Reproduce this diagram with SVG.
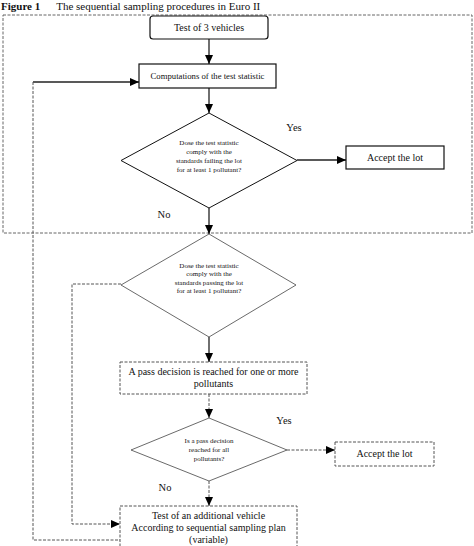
<svg xmlns="http://www.w3.org/2000/svg" width="474" height="546" viewBox="0 0 474 546">
<defs>
<marker id="ah" markerWidth="9" markerHeight="8" refX="9" refY="4" orient="auto" markerUnits="userSpaceOnUse">
<path d="M0,0 L9,4 L0,8 Z" fill="#000"/>
</marker>
</defs>
<style>
text{font-family:"Liberation Serif","Times New Roman",serif;fill:#111;text-anchor:middle}
.box{fill:#fff;stroke:#111;stroke-width:1.2}
.dbox{fill:#fff;stroke:#555;stroke-width:1;stroke-dasharray:3,1.5}
.dia{fill:#fff;stroke:#111;stroke-width:1}
.ddia{fill:#fff;stroke:#444;stroke-width:0.8}
.c{fill:none;stroke:#222;stroke-width:1.3}
.dc{fill:none;stroke:#555;stroke-width:1;stroke-dasharray:3,1.5}
.t10{font-size:10px}
.t7{font-size:7px}
.yn{font-size:10.5px}
</style>
<text x="1" y="10" style="text-anchor:start;font-size:11px;font-weight:bold">Figure 1<tspan font-weight="normal" dx="16">The sequential sampling procedures in Euro II</tspan></text>
<rect id="frame" x="3" y="15" width="469" height="218" fill="none" stroke="#666" stroke-width="1" stroke-dasharray="3,1.5"/>
<g id="connectors">
<line class="c" x1="209" y1="39" x2="209" y2="64" marker-end="url(#ah)"/>
<line class="c" x1="209" y1="88" x2="209" y2="113" marker-end="url(#ah)"/>
<line class="c" x1="297" y1="160" x2="346" y2="160" marker-end="url(#ah)"/>
<line class="c" x1="209" y1="208" x2="209" y2="234" marker-end="url(#ah)"/>
<line class="c" x1="209" y1="337" x2="209" y2="362" marker-end="url(#ah)"/>
<polyline class="c" points="33,82 139,82" marker-end="url(#ah)"/>
<polyline class="dc" points="33,82 33,540 120,540"/>
<polyline class="dc" points="121,284 72,284 72,524 120,524" marker-end="url(#ah)"/>
<line class="dc" x1="209" y1="394" x2="209" y2="418" marker-end="url(#ah)"/>
<line class="dc" x1="287" y1="450" x2="335" y2="450" marker-end="url(#ah)"/>
<line class="dc" x1="209" y1="481" x2="209" y2="506" marker-end="url(#ah)"/>
<text class="yn" x="294" y="131">Yes</text>
<text class="yn" x="164" y="218">No</text>
<text class="yn" x="284" y="424">Yes</text>
<text class="yn" x="165" y="491">No</text>
</g>
<g id="start">
<rect class="box" x="150" y="16" width="118" height="23" rx="3"/>
<text class="t10" x="209" y="31">Test of 3 vehicles</text>
</g>
<g id="compute">
<rect class="box" x="139" y="64" width="137" height="24"/>
<text x="207.5" y="79" style="font-size:8.7px">Computations of the test statistic</text>
</g>
<g id="decision1">
<polygon class="dia" points="209,113 297,160.5 209,208 121,160.5"/>
<text class="t7" x="209" y="145">Dose the test statistic</text>
<text class="t7" x="209" y="154">comply with the</text>
<text class="t7" x="209" y="163">standards failing the lot</text>
<text class="t7" x="209" y="172">for at least 1 pollutant?</text>
</g>
<g id="accept1">
<rect class="box" x="346" y="146" width="98" height="23"/>
<text class="t10" x="395" y="161">Accept the lot</text>
</g>
<g id="decision2">
<polygon class="ddia" points="209,234 296,285 209,337 121,285"/>
<text class="t7" x="209" y="268">Dose the test statistic</text>
<text class="t7" x="209" y="276">comply with the</text>
<text class="t7" x="209" y="285">standards passing the lot</text>
<text class="t7" x="209" y="293">for at least 1 pollutant?</text>
</g>
<g id="passbox">
<rect class="dbox" x="120" y="362" width="187" height="32"/>
<text class="t10" x="213.5" y="375">A pass decision is reached for one or more</text>
<text class="t10" x="213.5" y="387">pollutants</text>
</g>
<g id="decision3">
<polygon class="ddia" points="209,418 287,450 209,481 131,450"/>
<text class="t7" x="209" y="443">Is a pass decision</text>
<text class="t7" x="209" y="452">reached for all</text>
<text class="t7" x="209" y="461">pollutants?</text>
</g>
<g id="accept2">
<rect class="dbox" x="335" y="442" width="99" height="24"/>
<text class="t10" x="384.5" y="457">Accept the lot</text>
</g>
<g id="additional">
<rect class="dbox" x="120" y="506" width="177" height="48"/>
<text class="t10" x="208.5" y="519">Test of an additional vehicle</text>
<text class="t10" x="208.5" y="531">According to sequential sampling plan</text>
<text class="t10" x="208.5" y="543">(variable)</text>
</g>
</svg>
